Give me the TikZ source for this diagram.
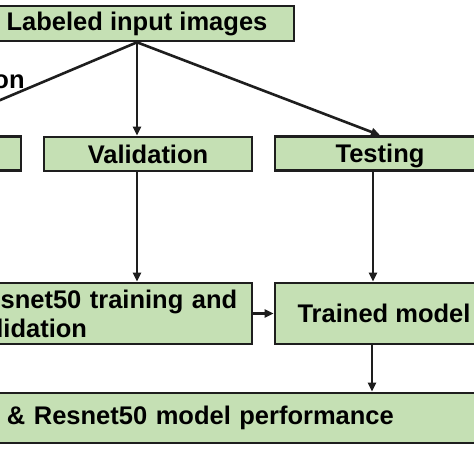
\documentclass[tikz,border=0pt]{standalone}
\usepackage{fontspec}
\setmainfont{Liberation Sans}
\usetikzlibrary{arrows.meta}
\definecolor{boxgreen}{HTML}{C5E0B4}
\definecolor{boxline}{HTML}{1E1E1E}

\begin{document}
\begin{tikzpicture}[
  x=1bp, y=-1bp,
  every node/.style={font=\fontsize{25.5bp}{29bp}\selectfont\bfseries},
  box/.style={draw=boxline, fill=boxgreen, line width=2.6bp, inner sep=0pt, align=center},
  arrow/.style={-{Triangle[length=9bp,width=8bp]}, line width=2.6bp, draw=boxline}
]
\useasboundingbox (0,0) rectangle (474,474);
\clip (0,0) rectangle (474,474);
\fill[white] (0,0) rectangle (474,474);
\node[box, minimum width=314bp, minimum height=35bp] (images) at (137,23.5) {Labeled input images};
\node[box, minimum width=208bp, minimum height=34bp] (train) at (-83,153.5) {};
\node[box, minimum width=208bp, minimum height=34bp] (valid) at (148,154) {Validation};
\node[box, minimum width=210bp, minimum height=34bp, text depth=0pt] (test) at (380,153.5) {Testing};
\node[box, minimum width=292bp, minimum height=61bp, text width=276bp, align=left] (resnet) at (106,313.5) {Resnet50 training and\\validation};
\node[box, minimum width=218bp, minimum height=61bp] (trained) at (384,313.5) {Trained model};
\node[box, minimum width=520bp, minimum height=50bp, text width=466bp, align=left] (perf) at (240,418) {\& Resnet50 model performance};
\node (splitlbl) at (9,82) {on};
\draw[arrow] (images.south) -- (train.north);
\draw[arrow] (images.south) -- (images.south |- valid.north);
\draw[arrow] (images.south) -- (test.north);
\draw[arrow] (images.south |- valid.south) -- (images.south |- resnet.north);
\draw[arrow] (resnet.east) -- (trained.west);
\draw[arrow] ([xshift=-7bp]test.south) -- ([xshift=-7bp]test.south |- trained.north);
\draw[arrow] ([xshift=-8bp]test.south |- trained.south) -- ([xshift=-8bp]test.south |- perf.north);
\end{tikzpicture}
\end{document}
